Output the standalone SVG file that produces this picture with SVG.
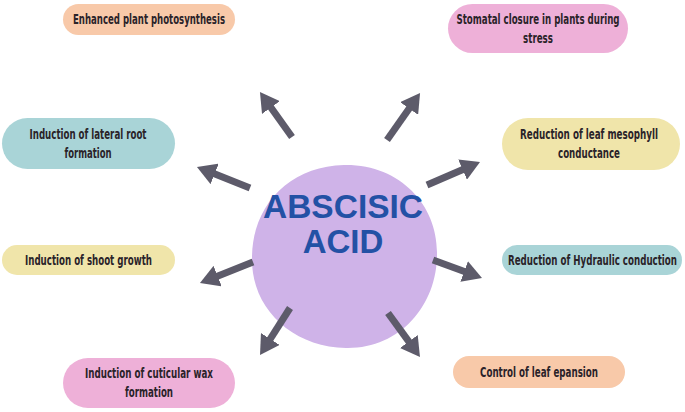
<svg xmlns="http://www.w3.org/2000/svg" width="685" height="412" viewBox="0 0 685 412">
<style>
.lbl{font-family:"Liberation Sans Narrow","DejaVu Sans Condensed","Roboto Condensed","Liberation Sans",sans-serif;font-stretch:condensed;font-weight:bold;font-size:14.5px;fill:#2a2329;text-anchor:middle}
.peach{fill:#f8c9a9}
.pink{fill:#eeb0d8}
.teal{fill:#a9d4d7}
.yellow{fill:#f0e5aa}
.arr{stroke:#5d5b6a;stroke-width:7;fill:none}
.title{font-family:"Liberation Sans",Arial,sans-serif;font-weight:bold;font-size:33px;fill:#2351a5;text-anchor:middle}
</style>
<defs>
<marker id="ah" markerUnits="userSpaceOnUse" markerWidth="20" markerHeight="22" viewBox="0 -11 20 22" refX="1" refY="0" orient="auto">
<path d="M0,-11 L19,0 L0,11 z" fill="#5d5b6a"/>
</marker>
</defs>
<rect width="685" height="412" fill="#ffffff"/>
<g id="center">
<path d="M344,165 C400,164 437,205 437,252 C438,305 400,349 346,348 C292,347 251,308 252,258 C252,205 290,166 344,165 Z" fill="#cfb3e8"/>
<text class="title" x="343" y="218" textLength="160" lengthAdjust="spacingAndGlyphs">ABSCISIC</text>
<text class="title" x="343" y="253">ACID</text>
</g>
<g id="connectors">
<line class="arr" x1="292" y1="137" x2="270.4" y2="106.7" marker-end="url(#ah)"/>
<line class="arr" x1="387" y1="140" x2="409.7" y2="107.7" marker-end="url(#ah)"/>
<line class="arr" x1="250" y1="188" x2="213.7" y2="173.6" marker-end="url(#ah)"/>
<line class="arr" x1="427" y1="185" x2="463.5" y2="169.2" marker-end="url(#ah)"/>
<line class="arr" x1="253" y1="262" x2="216.7" y2="276.4" marker-end="url(#ah)"/>
<line class="arr" x1="433" y1="260" x2="465.1" y2="271.8" marker-end="url(#ah)"/>
<line class="arr" x1="290" y1="308" x2="269.7" y2="339.8" marker-end="url(#ah)"/>
<line class="arr" x1="388" y1="313" x2="409.4" y2="342.4" marker-end="url(#ah)"/>
</g>
<g id="n1">
<rect class="peach" x="63" y="4" width="172" height="31" rx="15.5"/>
<g transform="translate(149,24) scale(0.55,1)"><text class="lbl" x="0" y="0" textLength="276.4" lengthAdjust="spacingAndGlyphs">Enhanced plant photosynthesis</text></g>
</g>
<g id="n2">
<rect class="pink" x="448" y="4" width="180" height="49" rx="24.5"/>
<g transform="translate(538,24) scale(0.55,1)"><text class="lbl" x="0" y="0" textLength="296.4" lengthAdjust="spacingAndGlyphs">Stomatal closure in plants during</text></g>
<g transform="translate(538,43) scale(0.55,1)"><text class="lbl" x="0" y="0" textLength="54.5" lengthAdjust="spacingAndGlyphs">stress</text></g>
</g>
<g id="n3">
<rect class="teal" x="2" y="118" width="173" height="51" rx="25.5"/>
<g transform="translate(88,139) scale(0.55,1)"><text class="lbl" x="0" y="0" textLength="212.7" lengthAdjust="spacingAndGlyphs">Induction of lateral root</text></g>
<g transform="translate(88,158) scale(0.55,1)"><text class="lbl" x="0" y="0" textLength="85.5" lengthAdjust="spacingAndGlyphs">formation</text></g>
</g>
<g id="n4">
<rect class="yellow" x="502" y="118" width="178" height="52" rx="26"/>
<g transform="translate(589,139) scale(0.55,1)"><text class="lbl" x="0" y="0" textLength="250.9" lengthAdjust="spacingAndGlyphs">Reduction of leaf mesophyll</text></g>
<g transform="translate(589,158) scale(0.55,1)"><text class="lbl" x="0" y="0" textLength="112.7" lengthAdjust="spacingAndGlyphs">conductance</text></g>
</g>
<g id="n5">
<rect class="yellow" x="2" y="245" width="173" height="30" rx="15"/>
<g transform="translate(88.5,265) scale(0.55,1)"><text class="lbl" x="0" y="0" textLength="230.9" lengthAdjust="spacingAndGlyphs">Induction of shoot growth</text></g>
</g>
<g id="n6">
<rect class="teal" x="502" y="245" width="180" height="30" rx="15"/>
<g transform="translate(592.5,265) scale(0.55,1)"><text class="lbl" x="0" y="0" textLength="307.3" lengthAdjust="spacingAndGlyphs">Reduction of Hydraulic conduction</text></g>
</g>
<g id="n7">
<rect class="pink" x="63" y="358" width="172" height="50" rx="25"/>
<g transform="translate(149,378) scale(0.55,1)"><text class="lbl" x="0" y="0" textLength="232.7" lengthAdjust="spacingAndGlyphs">Induction of cuticular wax</text></g>
<g transform="translate(149,397) scale(0.55,1)"><text class="lbl" x="0" y="0" textLength="87.3" lengthAdjust="spacingAndGlyphs">formation</text></g>
</g>
<g id="n8">
<rect class="peach" x="453" y="356" width="172" height="32" rx="16"/>
<g transform="translate(539,377) scale(0.55,1)"><text class="lbl" x="0" y="0" textLength="214.5" lengthAdjust="spacingAndGlyphs">Control of leaf epansion</text></g>
</g>
</svg>
